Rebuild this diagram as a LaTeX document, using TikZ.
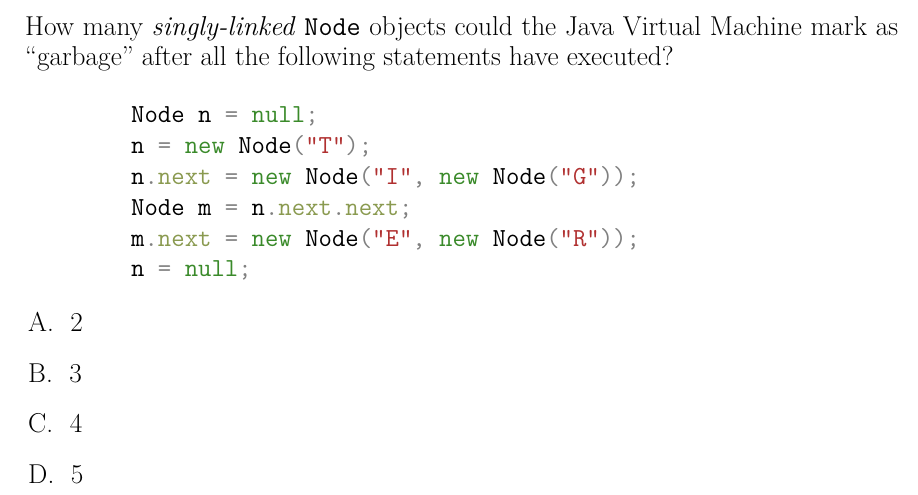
\documentclass[tikz,border=0pt]{standalone}
\usepackage{xcolor}
\definecolor{kw}{HTML}{3A8A2A}
\definecolor{fld}{HTML}{8A9A50}
\definecolor{str}{HTML}{B03030}
\definecolor{pun}{HTML}{808080}
\newcommand{\kw}[1]{\textcolor{kw}{#1}}
\newcommand{\fl}[1]{\textcolor{fld}{#1}}
\newcommand{\st}[1]{\textcolor{str}{#1}}
\newcommand{\pu}[1]{\textcolor{pun}{#1}}
\begin{document}
\begin{tikzpicture}[x=1pt,y=-1pt,
  txt/.style={anchor=base west,inner sep=0pt,font=\fontsize{27.3}{32}\selectfont},
  code/.style={anchor=base west,inner sep=0pt,font=\fontsize{26}{30}\selectfont\ttfamily}]
\useasboundingbox (0,0) rectangle (918,495);
\node[txt] (q1) at (25,36) {\makebox[873pt][s]{How many \textit{singly-linked} \texttt{Node} objects could the Java Virtual Machine mark as}};
\node[txt] (q2) at (25,66) {``garbage'' after all the following statements have executed?};
\node[code] (c1) at (131,122) {Node n \pu{=} \kw{null}\pu{;}};
\node[code] (c2) at (131,153) {n \pu{=} \kw{new} Node\pu{(}\st{"T"}\pu{);}};
\node[code] (c3) at (131,184) {n\pu{.}\fl{next} \pu{=} \kw{new} Node\pu{(}\st{"I"}\pu{,} \kw{new} Node\pu{(}\st{"G"}\pu{));}};
\node[code] (c4) at (131,215) {Node m \pu{=} n\pu{.}\fl{next}\pu{.}\fl{next}\pu{;}};
\node[code] (c5) at (131,246) {m\pu{.}\fl{next} \pu{=} \kw{new} Node\pu{(}\st{"E"}\pu{,} \kw{new} Node\pu{(}\st{"R"}\pu{));}};
\node[code] (c6) at (131,276) {n \pu{=} \kw{null}\pu{;}};
\node[txt] (a) at (28,331) {A.\ \ 2};
\node[txt] (b) at (28,382) {B.\ \ 3};
\node[txt] (c) at (28,432) {C.\ \ 4};
\node[txt] (d) at (28,483) {D.\ \ 5};
\end{tikzpicture}
\end{document}
